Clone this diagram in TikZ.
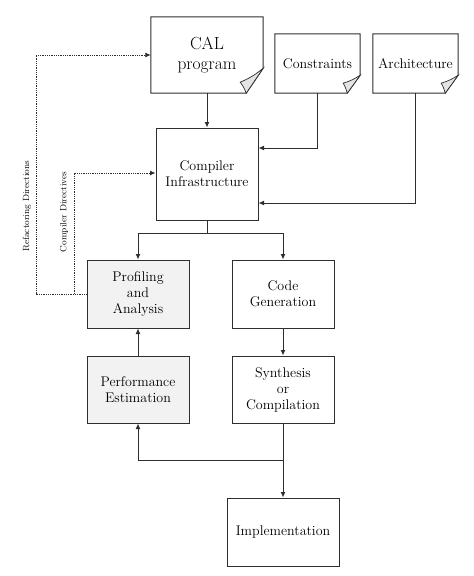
\documentclass[tikz,border=0pt]{standalone}
\usepackage{tikz}
\usetikzlibrary{arrows.meta}

\definecolor{linegray}{HTML}{2E2E2E}
\definecolor{boxgray}{HTML}{F2F2F2}
\definecolor{foldgray}{HTML}{E4E4E4}

\tikzset{
    block/.style={draw=linegray, line width=1pt, inner sep=0pt, minimum width=#1, text width=#1, align=center, font=\fontsize{14}{16}\selectfont},
    block/.default=102pt,
    shaded/.style={fill=boxgray},
    docnode/.style={draw=none, inner sep=0pt, align=center, font=\fontsize{14}{16}\selectfont},
    flow/.style={draw=linegray, line width=1pt, -{Latex[length=5.5pt,width=5pt]}},
    hint/.style={draw=linegray, line width=0.8pt, densely dotted, -{Latex[length=5.5pt,width=5pt]}},
    hintlabel/.style={rotate=90, font=\fontsize{9}{10}\selectfont}
}

% outline of a document with a folded corner
\newcommand{\dogear}[5]{
    \draw[linegray, line width=1pt] (#1.north west) -- (#1.north east) -- ([yshift=#2]#1.south east)
        -- ([xshift=-#3]#1.south east) -- (#1.south west) -- cycle;
    \draw[linegray, line width=0.7pt, fill=foldgray] ([yshift=#2]#1.south east) to[bend left=8] ([xshift=#4,yshift=#5]#1.south east)
        to[bend left=8] ([xshift=-#3]#1.south east) -- cycle;
}

\begin{document}
\begin{tikzpicture}[x=1pt,y=-1pt]
    \useasboundingbox (0,0) rectangle (474,576);

    % inputs
    \node[docnode, minimum width=112pt, minimum height=76pt, font=\fontsize{17.5}{20}\selectfont] (cal) at (207,55) {CAL\\program};
    \node[docnode, minimum width=85pt, minimum height=59pt] (cons) at (317.5,63.5) {Constraints};
    \node[docnode, minimum width=85pt, minimum height=59pt] (arch) at (415.5,63.5) {Architecture};
    \dogear{cal}{25pt}{17pt}{-23pt}{11pt}
    \dogear{cons}{18pt}{13pt}{-17pt}{10pt}
    \dogear{arch}{18pt}{13pt}{-17pt}{10pt}

    % tool flow
    \node[block, minimum height=92pt] (comp) at (207,174) {Compiler\\Infrastructure};
    \node[block, shaded, minimum height=68pt] (prof) at (138,294) {Profiling\\and\\Analysis};
    \node[block, minimum height=68pt] (code) at (283,294) {Code\\Generation};
    \node[block, shaded, minimum height=67pt] (perf) at (138,389.5) {Performance\\Estimation};
    \node[block, minimum height=67pt] (synth) at (283,389.5) {Synthesis\\or\\Compilation};
    \node[block=112pt, minimum height=68pt] (impl) at (283,532) {Implementation};

    \coordinate (split) at (207,233);
    \coordinate (merge) at (283,460);
    \coordinate (refx) at (36,294);
    \coordinate (dirx) at (74,294);

    \draw[flow] (cal.south) -- (comp.north);
    \draw[flow] (cons.south) |- ([yshift=26pt]comp.east);
    \draw[flow] (arch.south) |- ([yshift=-29pt]comp.east);
    \draw[flow] (comp.south) -- (split) -| (prof.north);
    \draw[flow] (split) -| (code.north);
    \draw[flow] (code.south) -- (synth.north);
    \draw[flow] (perf.north) -- (prof.south);
    \draw[flow] (synth.south) -- (impl.north);
    \draw[flow] (merge) -| (perf.south);

    % feedback
    \draw[hint] (prof.west) -- (refx) |- (cal.west);
    \draw[hint] (dirx) |- ([yshift=1pt]comp.west);
    \node[hintlabel] (reflabel) at (27,206) {Refactoring Directions};
    \node[hintlabel] (dirlabel) at (64,212) {Compiler Directives};

\end{tikzpicture}
\end{document}
